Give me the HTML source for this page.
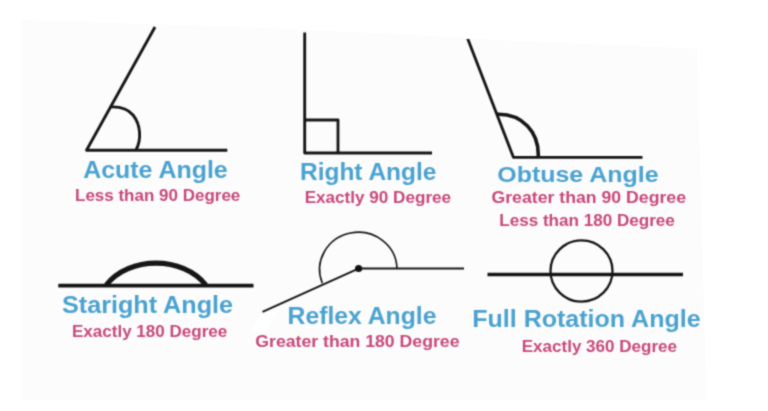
<!DOCTYPE html>
<html>
<head>
<meta charset="utf-8">
<title>Types of Angles</title>
<style>
html,body{margin:0;padding:0;background:#fff;}
body{width:768px;height:411px;overflow:hidden;}
svg{display:block;}
text{font-family:"Liberation Sans","DejaVu Sans",sans-serif;font-weight:bold;}
.t{fill:#4aa2d0;font-size:23px;}
.s{fill:#c7487a;font-size:16.9px;}
.l{stroke:#161616;fill:none;stroke-linecap:butt;stroke-linejoin:round;}
</style>
</head>
<body>
<svg width="768" height="411" viewBox="0 0 768 411">
<defs>
<filter id="b" x="-5%" y="-5%" width="110%" height="110%" color-interpolation-filters="sRGB"><feConvolveMatrix order="3" kernelMatrix="0.0361 0.1178 0.0361 0.1178 0.3846 0.1178 0.0361 0.1178 0.0361" edgeMode="duplicate" preserveAlpha="false"/></filter>
<clipPath id="c"><rect x="440" y="39" width="260" height="140"/></clipPath>
</defs>
<rect x="0" y="0" width="768" height="411" fill="#ffffff"/>
<polygon points="22,20 100,22.6 256,27.7 400,34.3 512,40.8 600,44.8 697,48.6 706.5,399.7 22,399.7" fill="#fcfcfc"/>
<polygon points="262.5,312.5 278.5,310.5 264.5,331.5 250,331.5" fill="#ffffff"/>
<g filter="url(#b)">
<!-- acute -->
<g class="l" stroke-width="2.85">
<path d="M155 27 L86.5 150.2 L227.3 150.2"/>
<path d="M136 150 C141.5 140 141 125 133 115 C128 109 120 106.5 110.5 107"/>
</g>
<text class="t" x="83.2" y="177.7" textLength="144.5" lengthAdjust="spacingAndGlyphs">Acute Angle</text>
<text class="s" x="75" y="201.3" textLength="165.3" lengthAdjust="spacingAndGlyphs">Less than 90 Degree</text>
<!-- right -->
<g class="l" stroke-width="2.85">
<path d="M304.7 32.5 L304.7 153 L432 153"/>
<path d="M304.7 120 L338 120 L338 153"/>
</g>
<text class="t" x="300" y="179.9" textLength="136.4" lengthAdjust="spacingAndGlyphs">Right Angle</text>
<text class="s" x="304.7" y="203" textLength="146.4" lengthAdjust="spacingAndGlyphs">Exactly 90 Degree</text>
<!-- obtuse -->
<g class="l" stroke-width="2.85">
<path clip-path="url(#c)" d="M466.9 36.6 L513.4 157.3 L642.5 157.3"/>
<path stroke-width="3.6" d="M538.2 157.3 C539.5 132 522 113.5 497 114.3"/>
</g>
<text class="t" style="font-size:22.2px" x="497.3" y="182.4" textLength="161.2" lengthAdjust="spacingAndGlyphs">Obtuse Angle</text>
<text class="s" x="491.5" y="202.9" textLength="194.5" lengthAdjust="spacingAndGlyphs">Greater than 90 Degree</text>
<text class="s" x="499.3" y="225.8" textLength="175.5" lengthAdjust="spacingAndGlyphs">Less than 180 Degree</text>
<!-- straight -->
<g class="l">
<path stroke-width="3.8" d="M58.3 285.6 L253.5 285.6"/>
<path stroke-width="5.2" d="M106.2 285 C129 255.8 183 255.8 205.8 285"/>
</g>
<text class="t" style="font-size:23.1px" x="62" y="312.8" textLength="171" lengthAdjust="spacingAndGlyphs">Staright Angle</text>
<text class="s" x="72" y="336.9" textLength="155.2" lengthAdjust="spacingAndGlyphs">Exactly 180 Degree</text>
<!-- reflex -->
<g class="l">
<path stroke-width="2" d="M262.5 311.9 L358.4 268.6 L464 268.6"/>
<path stroke-width="1.6" d="M397 268.5 A38.7 37.3 0 1 0 322.3 283.2"/>
</g>
<circle cx="358.6" cy="268.5" r="3.6" fill="#111"/>
<text class="t" style="font-size:23.5px" x="287.6" y="323.9" textLength="148.8" lengthAdjust="spacingAndGlyphs">Reflex Angle</text>
<text class="s" x="255.3" y="346.5" textLength="204.2" lengthAdjust="spacingAndGlyphs">Greater than 180 Degree</text>
<!-- full -->
<g class="l">
<path stroke-width="3.5" d="M487.5 274.4 L683 274.4"/>
<ellipse stroke-width="2.3" cx="581.5" cy="271" rx="31" ry="30.6"/>
</g>
<text class="t" style="font-size:24.3px" x="472.3" y="326.6" textLength="228.3" lengthAdjust="spacingAndGlyphs">Full Rotation Angle</text>
<text class="s" x="521.7" y="352" textLength="155.4" lengthAdjust="spacingAndGlyphs">Exactly 360 Degree</text>
</g>
</svg>
</body>
</html>
